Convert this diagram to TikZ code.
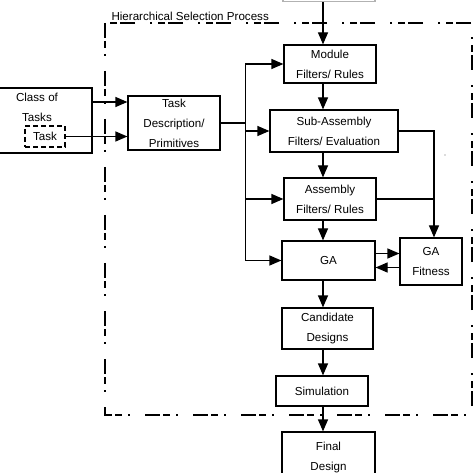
\documentclass[tikz,border=0pt]{standalone}
\usepackage{fontspec}
\setmainfont{Liberation Sans}
\usetikzlibrary{arrows.meta}
\tikzset{every node/.style={font=\fontsize{11.6}{20}\selectfont},
  box/.style={draw,line width=1.2pt,align=center,inner sep=0pt},
  arr/.style={line width=1.2pt,-{Triangle[length=12pt,width=10pt]}},
  frame/.style={line width=1.3pt,dash pattern=on 15pt off 3pt on 7pt off 6pt on 2pt off 15pt}}

\begin{document}
\begin{tikzpicture}[x=1pt,y=-1pt]
  \path[use as bounding box] (0,0) rectangle (474,473);
  \clip (0,0) rectangle (474,473);
  % dash-dot frame
  \draw[frame] (105,23) rectangle (472,415);
  \node[anchor=west] (hsp) at (108,16) {Hierarchical Selection Process};
  \coordinate (spine) at (323,0);
  % boxes
  \node[box,draw=black!30,minimum width=92,minimum height=33] (top) at (329,-15) {};
  \node[box,minimum width=92,minimum height=38] (module) at (330,64) {Module\\Filters/ Rules};
  \node[box,minimum width=128,minimum height=42] (subasm) at (334,131) {Sub-Assembly\\Filters/ Evaluation};
  \node[box,minimum width=92,minimum height=42] (asm) at (330,199) {Assembly\\Filters/ Rules};
  \node[box,minimum width=93,minimum height=39] (ga) at (328.5,260.5) {GA};
  \node[box,minimum width=62,minimum height=47] (fit) at (431,261.5) {GA\\Fitness};
  \node[box,minimum width=91,minimum height=41] (cand) at (327.5,328.5) {Candidate\\Designs};
  \node[box,minimum width=92,minimum height=30] (sim) at (322,391) {Simulation};
  \node[box,minimum width=93,minimum height=50] (final) at (328.5,457) {Final\\Design};
  \node[box,minimum width=94,minimum height=65] (cls) at (45,120.5) {};
  \node[align=center] (clstxt) at (37,107.5) {Class of\\Tasks};
  \node[box,dash pattern=on 5pt off 3pt,minimum width=40,minimum height=21] (task) at (45,136.5) {Task};
  \node[box,minimum width=92,minimum height=54] (desc) at (174,123) {Task\\Description/\\Primitives};
  % main column
  \draw[arr] (top.south -| spine) -- (module.north -| spine);
  \draw[arr] (module.south -| spine) -- (subasm.north -| spine);
  \draw[arr] (subasm.south -| spine) -- (asm.north -| spine);
  \draw[arr] (asm.south -| spine) -- (ga.north -| spine);
  \draw[arr] (ga.south -| spine) -- (cand.north -| spine);
  \draw[arr] (cand.south -| spine) -- (sim.north -| spine);
  \draw[arr] (sim.south -| spine) -- (final.north -| spine);
  % inputs
  \draw[arr] ([yshift=18.5pt]cls.east) -- ([yshift=18.5pt]cls.east -| desc.west);
  \draw[arr] (task.east) -- (task.east -| desc.west);
  \draw[line width=1.2pt] (desc.east) -- ++(25,0) coordinate (bus);
  \draw[arr] (bus) |- (module.west);
  \draw[arr] (bus) |- (ga.west);
  \draw[arr] (bus |- subasm.west) -- (subasm.west);
  \draw[arr] (bus |- asm.west) -- (asm.west);
  % fitness
  \coordinate (fitcol) at ([xshift=3pt]fit.north);
  \draw[arr] (subasm.east) -| (fitcol);
  \draw[line width=1.2pt] (asm.east) -- (asm.east -| fitcol);
  \draw[arr] ([yshift=7pt]ga.east) -- ([yshift=7pt]ga.east -| fit.west);
  \draw[arr] ([yshift=-7pt]ga.east -| fit.west) -- ([yshift=-7pt]ga.east);
  \fill[black!60] (445,155) circle (0.7pt);
\end{tikzpicture}
\end{document}
